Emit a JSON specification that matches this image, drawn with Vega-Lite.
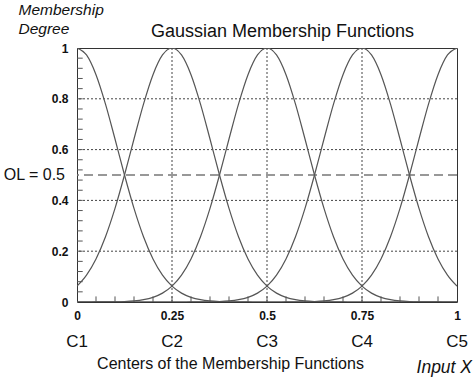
{
  "$schema": "https://vega.github.io/schema/vega-lite/v6.json",
  "width": 380,
  "height": 254,
  "autosize": {"type": "none"},
  "padding": {"left": 77, "top": 48, "right": 17, "bottom": 77},
  "background": "white",
  "config": {
    "view": {"stroke": "#333", "strokeWidth": 1},
    "font": "Liberation Sans"
  },
  "datasets": {
    "curves": [
      {"f": "C1", "x": 0, "y": 1}, {"f": "C1", "x": 0.025, "y": 0.97265}, {"f": "C1", "x": 0.05, "y": 0.89502}, {"f": "C1", "x": 0.075, "y": 0.77916}, {"f": "C1", "x": 0.1, "y": 0.64171}, {"f": "C1", "x": 0.125, "y": 0.5}, {"f": "C1", "x": 0.15, "y": 0.36856}, {"f": "C1", "x": 0.175, "y": 0.25702}, {"f": "C1", "x": 0.2, "y": 0.16958}, {"f": "C1", "x": 0.225, "y": 0.10585}, {"f": "C1", "x": 0.25, "y": 0.0625}, {"f": "C1", "x": 0.275, "y": 0.03491}, {"f": "C1", "x": 0.3, "y": 0.01845}, {"f": "C1", "x": 0.325, "y": 0.00922}, {"f": "C1", "x": 0.35, "y": 0.00436}, {"f": "C1", "x": 0.375, "y": 0.00195}, {"f": "C1", "x": 0.4, "y": 0.00083}, {"f": "C1", "x": 0.425, "y": 0.00033}, {"f": "C1", "x": 0.45, "y": 0.00013}, {"f": "C1", "x": 0.475, "y": 0.00004}, {"f": "C1", "x": 0.5, "y": 0.00002}, {"f": "C1", "x": 1, "y": 0},

      {"f": "C2", "x": 0, "y": 0.0625}, {"f": "C2", "x": 0.025, "y": 0.10585}, {"f": "C2", "x": 0.05, "y": 0.16958}, {"f": "C2", "x": 0.075, "y": 0.25702}, {"f": "C2", "x": 0.1, "y": 0.36856}, {"f": "C2", "x": 0.125, "y": 0.5}, {"f": "C2", "x": 0.15, "y": 0.64171}, {"f": "C2", "x": 0.175, "y": 0.77916}, {"f": "C2", "x": 0.2, "y": 0.89502}, {"f": "C2", "x": 0.225, "y": 0.97265}, {"f": "C2", "x": 0.25, "y": 1}, {"f": "C2", "x": 0.275, "y": 0.97265}, {"f": "C2", "x": 0.3, "y": 0.89502}, {"f": "C2", "x": 0.325, "y": 0.77916}, {"f": "C2", "x": 0.35, "y": 0.64171}, {"f": "C2", "x": 0.375, "y": 0.5}, {"f": "C2", "x": 0.4, "y": 0.36856}, {"f": "C2", "x": 0.425, "y": 0.25702}, {"f": "C2", "x": 0.45, "y": 0.16958}, {"f": "C2", "x": 0.475, "y": 0.10585}, {"f": "C2", "x": 0.5, "y": 0.0625}, {"f": "C2", "x": 0.525, "y": 0.03491}, {"f": "C2", "x": 0.55, "y": 0.01845}, {"f": "C2", "x": 0.575, "y": 0.00922}, {"f": "C2", "x": 0.6, "y": 0.00436}, {"f": "C2", "x": 0.625, "y": 0.00195}, {"f": "C2", "x": 0.65, "y": 0.00083}, {"f": "C2", "x": 0.675, "y": 0.00033}, {"f": "C2", "x": 0.7, "y": 0.00013}, {"f": "C2", "x": 0.725, "y": 0.00004}, {"f": "C2", "x": 0.75, "y": 0.00002}, {"f": "C2", "x": 1, "y": 0},

      {"f": "C3", "x": 0, "y": 0.00002}, {"f": "C3", "x": 0.025, "y": 0.00004}, {"f": "C3", "x": 0.05, "y": 0.00013}, {"f": "C3", "x": 0.075, "y": 0.00033}, {"f": "C3", "x": 0.1, "y": 0.00083}, {"f": "C3", "x": 0.125, "y": 0.00195}, {"f": "C3", "x": 0.15, "y": 0.00436}, {"f": "C3", "x": 0.175, "y": 0.00922}, {"f": "C3", "x": 0.2, "y": 0.01845}, {"f": "C3", "x": 0.225, "y": 0.03491}, {"f": "C3", "x": 0.25, "y": 0.0625}, {"f": "C3", "x": 0.275, "y": 0.10585}, {"f": "C3", "x": 0.3, "y": 0.16958}, {"f": "C3", "x": 0.325, "y": 0.25702}, {"f": "C3", "x": 0.35, "y": 0.36856}, {"f": "C3", "x": 0.375, "y": 0.5}, {"f": "C3", "x": 0.4, "y": 0.64171}, {"f": "C3", "x": 0.425, "y": 0.77916}, {"f": "C3", "x": 0.45, "y": 0.89502}, {"f": "C3", "x": 0.475, "y": 0.97265}, {"f": "C3", "x": 0.5, "y": 1}, {"f": "C3", "x": 0.525, "y": 0.97265}, {"f": "C3", "x": 0.55, "y": 0.89502}, {"f": "C3", "x": 0.575, "y": 0.77916}, {"f": "C3", "x": 0.6, "y": 0.64171}, {"f": "C3", "x": 0.625, "y": 0.5}, {"f": "C3", "x": 0.65, "y": 0.36856}, {"f": "C3", "x": 0.675, "y": 0.25702}, {"f": "C3", "x": 0.7, "y": 0.16958}, {"f": "C3", "x": 0.725, "y": 0.10585}, {"f": "C3", "x": 0.75, "y": 0.0625}, {"f": "C3", "x": 0.775, "y": 0.03491}, {"f": "C3", "x": 0.8, "y": 0.01845}, {"f": "C3", "x": 0.825, "y": 0.00922}, {"f": "C3", "x": 0.85, "y": 0.00436}, {"f": "C3", "x": 0.875, "y": 0.00195}, {"f": "C3", "x": 0.9, "y": 0.00083}, {"f": "C3", "x": 0.925, "y": 0.00033}, {"f": "C3", "x": 0.95, "y": 0.00013}, {"f": "C3", "x": 0.975, "y": 0.00004}, {"f": "C3", "x": 1, "y": 0.00002},

      {"f": "C4", "x": 0, "y": 0}, {"f": "C4", "x": 0.25, "y": 0.00002}, {"f": "C4", "x": 0.275, "y": 0.00004}, {"f": "C4", "x": 0.3, "y": 0.00013}, {"f": "C4", "x": 0.325, "y": 0.00033}, {"f": "C4", "x": 0.35, "y": 0.00083}, {"f": "C4", "x": 0.375, "y": 0.00195}, {"f": "C4", "x": 0.4, "y": 0.00436}, {"f": "C4", "x": 0.425, "y": 0.00922}, {"f": "C4", "x": 0.45, "y": 0.01845}, {"f": "C4", "x": 0.475, "y": 0.03491}, {"f": "C4", "x": 0.5, "y": 0.0625}, {"f": "C4", "x": 0.525, "y": 0.10585}, {"f": "C4", "x": 0.55, "y": 0.16958}, {"f": "C4", "x": 0.575, "y": 0.25702}, {"f": "C4", "x": 0.6, "y": 0.36856}, {"f": "C4", "x": 0.625, "y": 0.5}, {"f": "C4", "x": 0.65, "y": 0.64171}, {"f": "C4", "x": 0.675, "y": 0.77916}, {"f": "C4", "x": 0.7, "y": 0.89502}, {"f": "C4", "x": 0.725, "y": 0.97265}, {"f": "C4", "x": 0.75, "y": 1}, {"f": "C4", "x": 0.775, "y": 0.97265}, {"f": "C4", "x": 0.8, "y": 0.89502}, {"f": "C4", "x": 0.825, "y": 0.77916}, {"f": "C4", "x": 0.85, "y": 0.64171}, {"f": "C4", "x": 0.875, "y": 0.5}, {"f": "C4", "x": 0.9, "y": 0.36856}, {"f": "C4", "x": 0.925, "y": 0.25702}, {"f": "C4", "x": 0.95, "y": 0.16958}, {"f": "C4", "x": 0.975, "y": 0.10585}, {"f": "C4", "x": 1, "y": 0.0625},

      {"f": "C5", "x": 0, "y": 0}, {"f": "C5", "x": 0.5, "y": 0.00002}, {"f": "C5", "x": 0.525, "y": 0.00004}, {"f": "C5", "x": 0.55, "y": 0.00013}, {"f": "C5", "x": 0.575, "y": 0.00033}, {"f": "C5", "x": 0.6, "y": 0.00083}, {"f": "C5", "x": 0.625, "y": 0.00195}, {"f": "C5", "x": 0.65, "y": 0.00436}, {"f": "C5", "x": 0.675, "y": 0.00922}, {"f": "C5", "x": 0.7, "y": 0.01845}, {"f": "C5", "x": 0.725, "y": 0.03491}, {"f": "C5", "x": 0.75, "y": 0.0625}, {"f": "C5", "x": 0.775, "y": 0.10585}, {"f": "C5", "x": 0.8, "y": 0.16958}, {"f": "C5", "x": 0.825, "y": 0.25702}, {"f": "C5", "x": 0.85, "y": 0.36856}, {"f": "C5", "x": 0.875, "y": 0.5}, {"f": "C5", "x": 0.9, "y": 0.64171}, {"f": "C5", "x": 0.925, "y": 0.77916}, {"f": "C5", "x": 0.95, "y": 0.89502}, {"f": "C5", "x": 0.975, "y": 0.97265}, {"f": "C5", "x": 1, "y": 1}
    ],
    "centers": [
      {"name": "C1", "x": 0, "y": 0},
      {"name": "C2", "x": 0.25, "y": 0},
      {"name": "C3", "x": 0.5, "y": 0},
      {"name": "C4", "x": 0.75, "y": 0},
      {"name": "C5", "x": 1, "y": 0}
    ]
  },
  "layer": [
    {
      "data": {"values": [{"y": 0.2}, {"y": 0.4}, {"y": 0.6}, {"y": 0.8}]},
      "mark": {"type": "rule", "stroke": "#444", "strokeWidth": 1, "strokeDash": [2, 2]},
      "encoding": {"y": {"field": "y", "type": "quantitative"}}
    },
    {
      "data": {"values": [{"x": 0.25}, {"x": 0.5}, {"x": 0.75}]},
      "mark": {"type": "rule", "stroke": "#444", "strokeWidth": 1, "strokeDash": [2, 2]},
      "encoding": {"x": {"field": "x", "type": "quantitative"}}
    },
    {
      "data": {"values": [{"x": 0.05}, {"x": 0.1}, {"x": 0.15}, {"x": 0.2}, {"x": 0.25}, {"x": 0.3}, {"x": 0.35}, {"x": 0.4}, {"x": 0.45}, {"x": 0.5}, {"x": 0.55}, {"x": 0.6}, {"x": 0.65}, {"x": 0.7}, {"x": 0.75}, {"x": 0.8}, {"x": 0.85}, {"x": 0.9}, {"x": 0.95}]},
      "mark": {"type": "rule", "stroke": "#555", "strokeWidth": 1},
      "encoding": {
        "x": {"field": "x", "type": "quantitative"},
        "y": {"datum": 0},
        "y2": {"datum": 0.022}
      }
    },
    {
      "data": {"values": [{"y": 0.04}, {"y": 0.08}, {"y": 0.12}, {"y": 0.16}, {"y": 0.2}, {"y": 0.24}, {"y": 0.28}, {"y": 0.32}, {"y": 0.36}, {"y": 0.4}, {"y": 0.44}, {"y": 0.48}, {"y": 0.52}, {"y": 0.56}, {"y": 0.6}, {"y": 0.64}, {"y": 0.68}, {"y": 0.72}, {"y": 0.76}, {"y": 0.8}, {"y": 0.84}, {"y": 0.88}, {"y": 0.92}, {"y": 0.96}]},
      "mark": {"type": "rule", "stroke": "#555", "strokeWidth": 1},
      "encoding": {
        "y": {"field": "y", "type": "quantitative"},
        "x": {"datum": 0},
        "x2": {"datum": 0.015}
      }
    },
    {
      "data": {"values": [{"y": 0.5}]},
      "mark": {"type": "rule", "stroke": "#777", "strokeWidth": 1.3, "strokeDash": [9, 5]},
      "encoding": {"y": {"field": "y", "type": "quantitative"}}
    },
    {
      "data": {"name": "curves"},
      "mark": {"type": "line", "interpolate": "monotone", "stroke": "#555", "strokeWidth": 1.2, "clip": true},
      "encoding": {
        "detail": {"field": "f", "type": "nominal"},
        "x": {
          "field": "x",
          "type": "quantitative",
          "scale": {"domain": [0, 1], "nice": false, "zero": false},
          "axis": {
            "values": [0, 0.25, 0.5, 0.75, 1],
            "labelExpr": "datum.value + ''",
            "grid": false,
            "domain": false,
            "ticks": false,
            "labelPadding": 8,
            "labelFontSize": 12,
            "labelFontWeight": "bold",
            "labelColor": "#111",
            "labelFont": "Liberation Sans",
            "labelOverlap": false,
            "labelFlush": false,
            "title": "Centers of the Membership Functions",
            "titleFont": "Liberation Sans",
            "titleFontSize": 16,
            "titleFontWeight": "normal",
            "titleColor": "#111",
            "titleX": 153,
            "titleY": 66,
            "titleAlign": "center",
            "titleBaseline": "alphabetic"
          }
        },
        "y": {
          "field": "y",
          "type": "quantitative",
          "scale": {"domain": [0, 1], "nice": false},
          "axis": {
            "values": [0, 0.2, 0.4, 0.6, 0.8, 1],
            "labelExpr": "datum.value + ''",
            "grid": false,
            "domain": false,
            "ticks": false,
            "labelPadding": 9,
            "labelFontSize": 12,
            "labelFontWeight": "bold",
            "labelColor": "#111",
            "labelFont": "Liberation Sans",
            "labelOverlap": false,
            "labelFlush": false,
            "title": ["Membership", "Degree"],
            "titleFont": "Liberation Sans",
            "titleFontSize": 15.5,
            "titleFontStyle": "italic",
            "titleFontWeight": "normal",
            "titleColor": "#111",
            "titleAngle": 0,
            "titleAlign": "left",
            "titleBaseline": "top",
            "titleLineHeight": 19,
            "titleX": -59,
            "titleY": -46
          }
        }
      }
    },
    {
      "data": {"values": [{"label": "Gaussian Membership Functions", "x": 0.5, "y": 1}]},
      "mark": {"type": "text", "fontSize": 18, "color": "#111", "align": "center", "baseline": "alphabetic", "dx": 15.5, "dy": -11, "font": "Liberation Sans"},
      "encoding": {
        "x": {"field": "x", "type": "quantitative"},
        "y": {"field": "y", "type": "quantitative"},
        "text": {"field": "label"}
      }
    },
    {
      "data": {"name": "centers"},
      "mark": {"type": "text", "fontSize": 17, "color": "#111", "align": "center", "baseline": "alphabetic", "dy": 45, "font": "Liberation Sans"},
      "encoding": {
        "x": {"field": "x", "type": "quantitative"},
        "y": {"field": "y", "type": "quantitative"},
        "text": {"field": "name"}
      }
    },
    {
      "data": {"values": [{"label": "OL = 0.5", "x": 0, "y": 0.5}]},
      "mark": {"type": "text", "fontSize": 16, "color": "#111", "align": "right", "baseline": "middle", "dx": -12, "font": "Liberation Sans"},
      "encoding": {
        "x": {"field": "x", "type": "quantitative"},
        "y": {"field": "y", "type": "quantitative"},
        "text": {"field": "label"}
      }
    },
    {
      "data": {"values": [{"label": "Input X", "x": 1, "y": 0}]},
      "mark": {"type": "text", "fontSize": 17.5, "fontStyle": "italic", "color": "#111", "align": "right", "baseline": "alphabetic", "dx": 15, "dy": 71, "font": "Liberation Sans"},
      "encoding": {
        "x": {"field": "x", "type": "quantitative"},
        "y": {"field": "y", "type": "quantitative"},
        "text": {"field": "label"}
      }
    }
  ]
}
